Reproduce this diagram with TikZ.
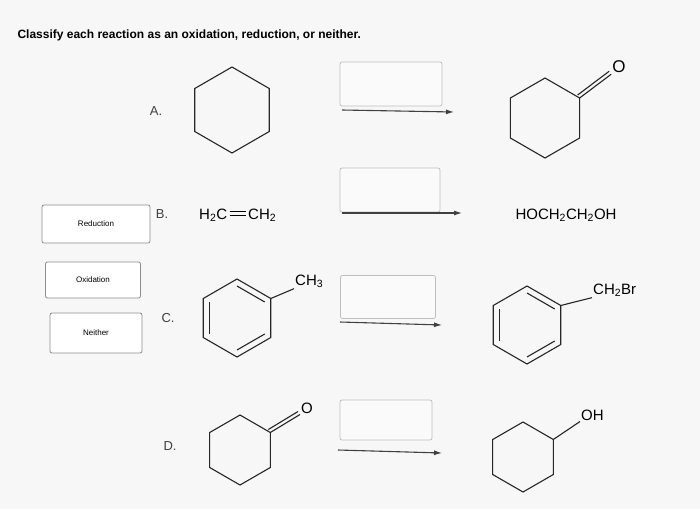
\documentclass[tikz,border=0pt]{standalone}
\usepackage{fontspec}
\setmainfont{Liberation Sans}
\usetikzlibrary{shapes.geometric,arrows.meta,calc}
\newcommand{\sbs}[1]{\textsubscript{#1}}
\begin{document}
\begin{tikzpicture}[x=1pt,y=-1pt,
  ring/.style={regular polygon,regular polygon sides=6,shape border rotate=30,draw=black!85,line width=1.1pt,inner sep=0pt},
  ansbox/.style={draw=black!25,line width=0.8pt,rounded corners=2pt,fill=white!96!gray},
  btn/.style={draw=black!45,line width=0.8pt,rounded corners=2pt,fill=white,font=\fontsize{8}{9}\selectfont},
  rarrow/.style={-{Latex[length=8pt,width=5pt]},line width=1.1pt,draw=black!75},
  bond/.style={line width=1.1pt,draw=black!85},
  chem/.style={font=\fontsize{15}{17}\selectfont,inner sep=1pt},
  lab/.style={font=\fontsize{13}{15}\selectfont,text=black!75}]
\fill[white!94!gray] (0,0) rectangle (700,509);
\useasboundingbox (0,0) rectangle (700,509);
\node[anchor=west,font=\bfseries\fontsize{12}{14}\selectfont] (title) at (14,35) {Classify each reaction as an oxidation, reduction, or neither.};
% buttons
\node[btn,minimum width=108pt,minimum height=38pt] (red) at (96,224) {Reduction};
\node[btn,minimum width=95pt,minimum height=36pt] (oxi) at (93,280) {Oxidation};
\node[btn,minimum width=92pt,minimum height=40pt] (nei) at (96,333) {Neither};
% A
\node[lab] (la) at (156,111) {A.};
\node[ring,minimum size=86pt] (ra) at (232,110) {};
\node[ansbox,minimum width=102pt,minimum height=44pt] (ba) at (391,84) {};
\coordinate (a1) at (342,110); \coordinate (a2) at (454,112);
\draw[rarrow] (a1) -- (a2);
\node[ring,minimum size=80pt] (pa) at (545,118) {};
\coordinate (pat) at ($(pa.center)+(-30:40)$);
\node[chem,font=\fontsize{17}{19}\selectfont] (oa) at (619,67) {O};
\draw[bond] (pat) -- (oa.south west);
\draw[bond] ($(pat)+(-2,-3)$) -- ($(oa.south west)+(-2,-3)$);
% B
\node[lab] (lb) at (162,214) {B.};
\node[chem,anchor=west] (hb) at (198,215) {H\sbs{2}C\,\raisebox{0.5pt}{\rule[3.2pt]{16pt}{0.8pt}\llap{\rule[6.4pt]{16pt}{0.8pt}}}\,CH\sbs{2}};
\node[ansbox,minimum width=100pt,minimum height=44pt] (bb) at (390,190) {};
\coordinate (b1) at (342,213); \coordinate (b2) at (462,213);
\draw[rarrow] (b1) -- (b2);
\node[chem] (pb) at (566,215) {HOCH\sbs{2}CH\sbs{2}OH};
% C
\node[lab] (lc) at (168,318) {C.};
\node[ring,minimum size=78pt] (rc) at (237,318) {};
\coordinate (ct) at ($(rc.center)+(-30:39)$);
\node[chem,anchor=west] (mc) at (294,281) {CH\sbs{3}};
\draw[bond] (ct) -- (mc.south west);
\foreach \a in {-90,30,150}{\draw[bond] ($(rc.center)+(\a:32)$) -- ($(rc.center)+(\a+60:32)$);}
\node[ansbox,minimum width=95pt,minimum height=43pt] (bc) at (388,297) {};
\coordinate (c1) at (340,322); \coordinate (c2) at (442,325);
\draw[rarrow] (c1) -- (c2);
\node[ring,minimum size=78pt] (pc) at (527,325) {};
\coordinate (pct) at ($(pc.center)+(-30:39)$);
\node[chem,anchor=west] (bc2) at (592,290) {CH\sbs{2}Br};
\draw[bond] (pct) -- (bc2.south west);
\foreach \a in {-90,30,150}{\draw[bond] ($(pc.center)+(\a:32)$) -- ($(pc.center)+(\a+60:32)$);}
% D
\node[lab] (ld) at (170,446) {D.};
\node[ring,minimum size=70pt] (rd) at (240,450) {};
\coordinate (dt) at ($(rd.center)+(-30:35)$);
\node[chem] (od) at (307,408) {O};
\draw[bond] (dt) -- (od.south west);
\draw[bond] ($(dt)+(-2,-3)$) -- ($(od.south west)+(-2,-3)$);
\node[ansbox,minimum width=92pt,minimum height=40pt] (bd) at (386,420) {};
\coordinate (d1) at (338,450); \coordinate (d2) at (442,453);
\draw[rarrow] (d1) -- (d2);
\node[ring,minimum size=70pt] (pd) at (523,457) {};
\coordinate (pdt) at ($(pd.center)+(-30:35)$);
\node[chem,anchor=west] (ohd) at (580,415) {OH};
\draw[bond] (pdt) -- (ohd.south west);
\end{tikzpicture}
\end{document}
